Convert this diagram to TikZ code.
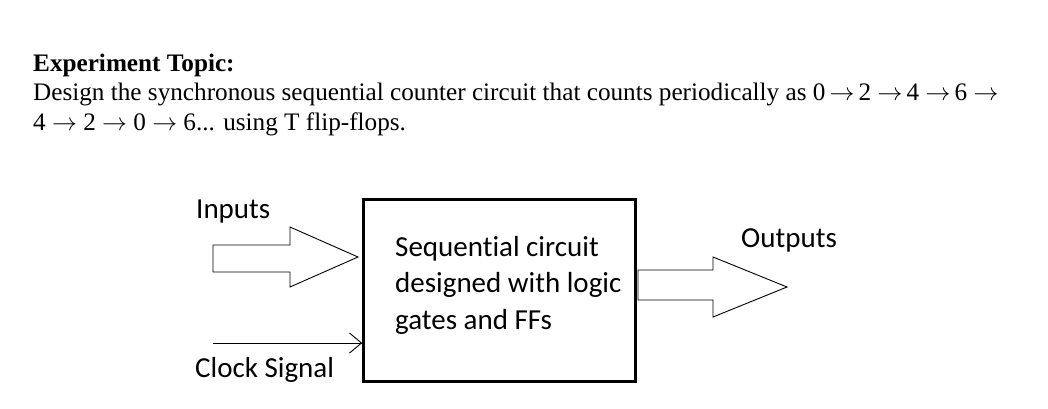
\documentclass[tikz,border=0pt]{standalone}
\usepackage{fontspec}
\usetikzlibrary{calc}
\setmainfont{Liberation Serif}
\newfontfamily\calfont[RawFeature={-liga;-clig;-dlig}]{Carlito}
\begin{document}
\begin{tikzpicture}[x=1pt,y=-1pt,
  lbl/.style={font=\calfont\fontsize{29}{35}\selectfont,inner sep=0pt},
  hd/.style={font=\fontsize{25.2}{30}\selectfont,inner sep=0pt,anchor=west},
  fat/.style={draw,line width=0.9pt,fill=white}]
\useasboundingbox (0,0) rectangle (1048,408);
\node[hd,font=\bfseries\fontsize{25.2}{30}\selectfont] (t) at (33,65) {Experiment Topic:};
\node[hd] (l1) at (33,94) {Design the synchronous sequential counter circuit that counts periodically as 0\,$\rightarrow$\,2 $\rightarrow$\,4 $\rightarrow$\,6 $\rightarrow$};
\node[hd] (l2) at (33,124) {4 $\rightarrow$ 2 $\rightarrow$ 0 $\rightarrow$ 6... using T flip-flops.};
\node[draw,line width=3pt,minimum width=272pt,minimum height=182pt] (box) at (499,290) {};
\node[lbl,anchor=west,align=left,font=\calfont\fontsize{29}{36.5}\selectfont] (txt) at (395,285) {Sequential circuit\\designed with logic\\gates and FFs};
\draw[fat] (213,245) -- (290,245) -- (290,227) -- (358,257) -- (290,287) -- (290,272) -- (213,272) -- cycle;
\draw[fat] (638,270) -- (713,270) -- (713,257) -- (787,287) -- (713,317) -- (713,300) -- (638,300) -- cycle;
\coordinate (cs) at (213,343);
\coordinate (ce) at (box.west |- cs);
\draw[line width=0.9pt] (cs) -- (ce);
\draw[line width=0.9pt] ($(ce)+(-12,-10)$) -- (ce) -- ($(ce)+(-12,10)$);
\node[lbl,anchor=west] (in) at (196,212) {Inputs};
\node[lbl,anchor=west] (out) at (741,240) {Outputs};
\node[lbl,anchor=west] (clk) at (195,370) {Clock Signal};
\end{tikzpicture}
\end{document}
